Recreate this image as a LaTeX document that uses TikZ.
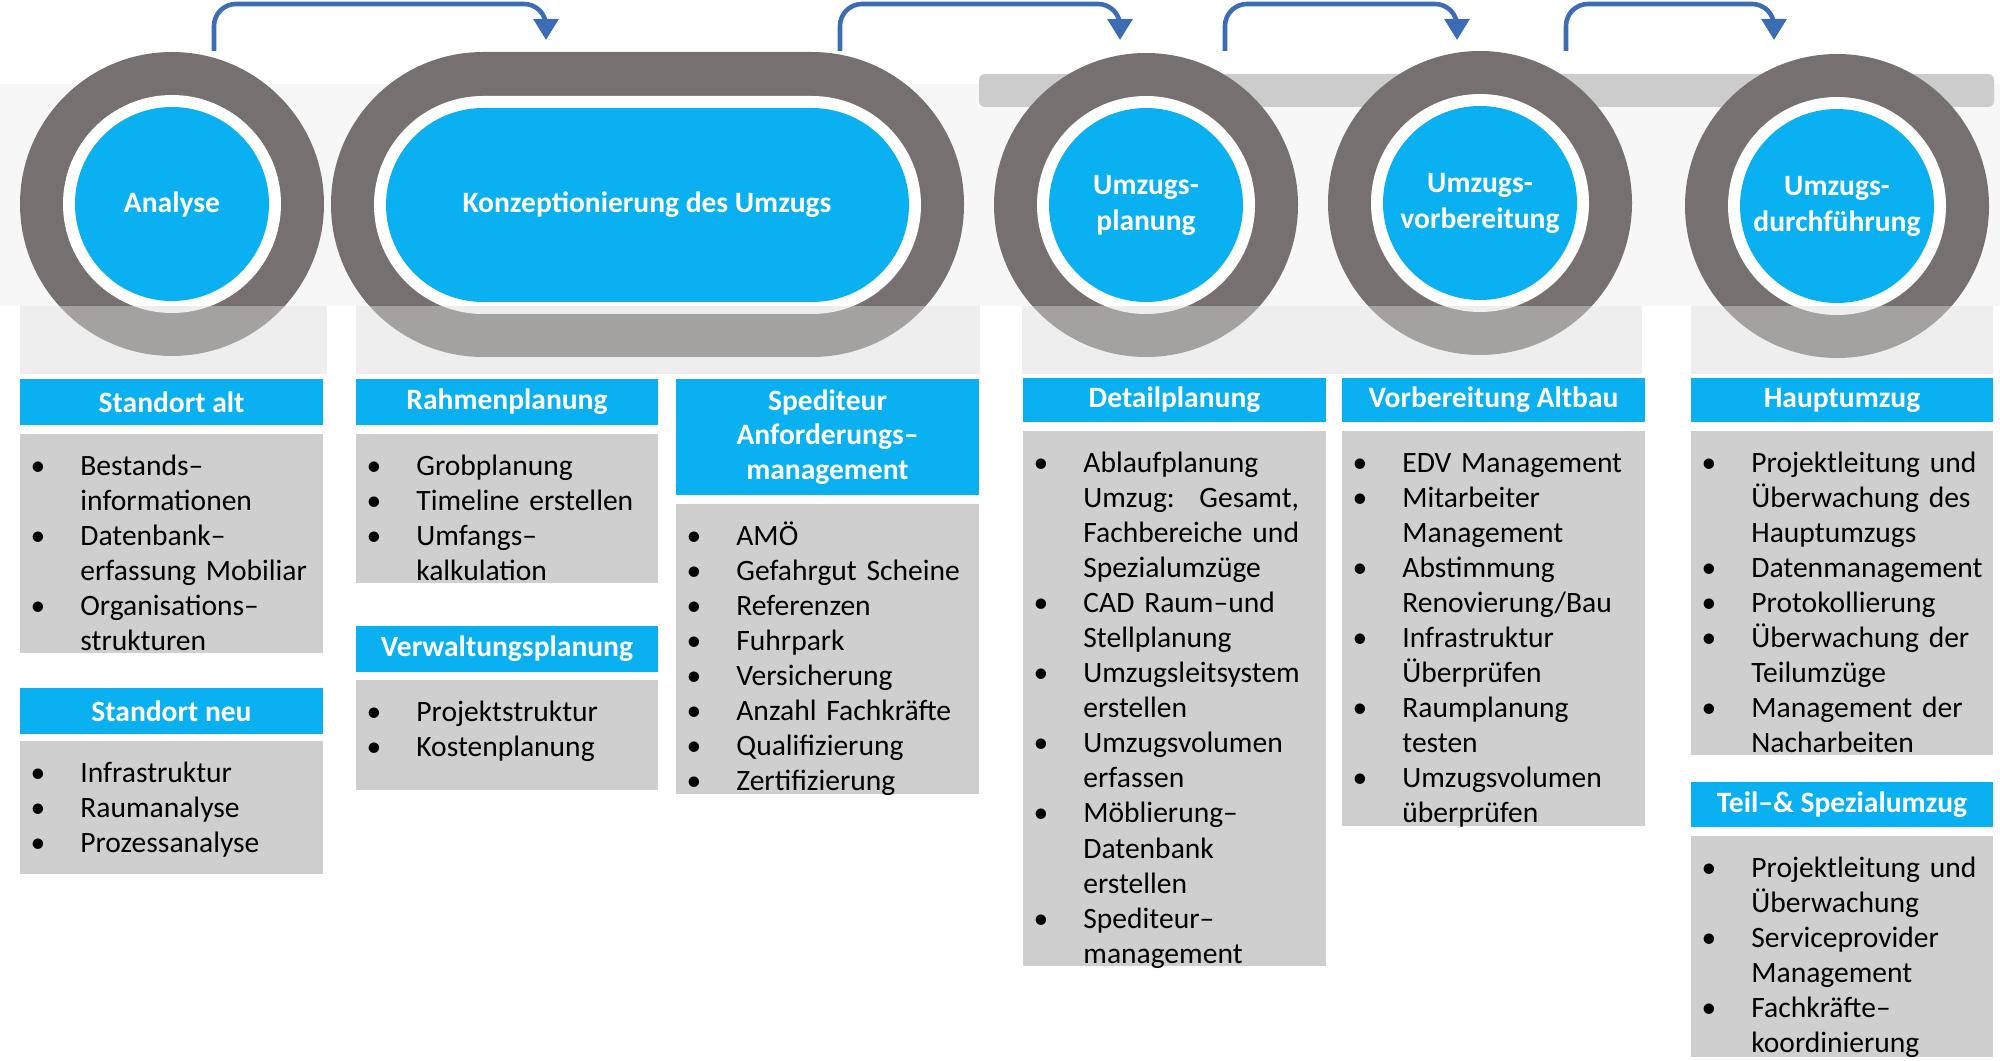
\documentclass[tikz,border=0pt]{standalone}
\usepackage{fontspec}
\setmainfont{Carlito}
\usepackage{enumitem}
\usetikzlibrary{arrows.meta}
\definecolor{ringgray}{HTML}{767170}
\definecolor{umblue}{HTML}{0AB0EF}
\definecolor{boxgray}{HTML}{D0CFCF}
\definecolor{arrblue}{HTML}{3B6CB4}
\newcommand{\punkte}[1]{\begin{itemize}[label=\textbullet,leftmargin=11pt,labelsep=10pt,nosep]#1\end{itemize}}
% header bar with centred title
\newcommand{\kopf}[6]{\fill[umblue] (#2,#3) rectangle (#4,#5);
  \node[kopftxt] (#1) at ({(#2+#4)/2},{(#3+#5)/2}) {#6};}
% gray box with bullet list
\newcommand{\liste}[6]{\fill[boxgray] (#2,#3) rectangle (#4,#5);
  \node[listtxt] (#1) at (#2+21,#3+6) {\punkte{#6}};}
% ring with blue centre
\newcommand{\ring}[4]{\fill[ringgray] (#2,#3) circle (152);
  \fill[white] (#2,#3) circle (109);
  \fill[umblue] (#2,#3) circle (97);
  \node[ringtxt] (#1) at (#2,#3) {#4};}
\tikzset{
  kopftxt/.style={text=white,font=\fontsize{8.4}{9.9}\selectfont\bfseries,align=center,inner sep=0},
  listtxt/.style={anchor=north west,inner sep=0,text width=2.75cm,font=\fontsize{8.4}{9.96}\selectfont,align=left},
  ringtxt/.style={text=white,font=\fontsize{8.4}{10.2}\selectfont\bfseries,align=center,inner sep=0},
  pfeil/.style={arrblue,line width=1.3pt,rounded corners=0.22cm,-{Triangle[width=7pt,length=6pt]}},
  band/.style={fill=black!14,opacity=.46}
}
\begin{document}
\begin{tikzpicture}[x=0.01cm,y=-0.01cm]
\useasboundingbox (0,0) rectangle (2000,1061);
\fill[black!3] (0,84) rectangle (2000,306);
\fill[black!20,rounded corners=0.06cm] (979,74) rectangle (1994,107);
% phases
\ring{analyse}{172}{204}{Analyse}
\fill[ringgray,rounded corners=1.52cm] (331,52) rectangle (964,357);
\fill[white,rounded corners=1.09cm] (374,96) rectangle (921,314);
\fill[umblue,rounded corners=0.97cm] (386,108) rectangle (909,302);
\node[ringtxt] (konz) at (647,205) {Konzeptionierung des Umzugs};
\ring{planung}{1146}{205}{Umzugs-\\planung}
\ring{vorber}{1480}{203}{Umzugs-\\vorbereitung}
\ring{durchf}{1837}{206}{Umzugs-\\durchführung}
\fill[band] (20,306) rectangle (327,374);
\fill[band] (356,306) rectangle (980,374);
\fill[band] (1022,306) rectangle (1642,374);
\fill[band] (1691,306) rectangle (1993,374);
% column 1
\kopf{alt}{20}{379}{323}{425}{Standort alt}
\liste{altl}{20}{434}{323}{653}{\item Bestands–\\informationen
  \item Datenbank–\\erfassung Mobiliar
  \item Organisations–\\strukturen}
\kopf{neu}{20}{688}{323}{734}{Standort neu}
\liste{neul}{20}{741}{323}{874}{\item Infrastruktur \item Raumanalyse \item Prozessanalyse}
% column 2
\kopf{rahmen}{356}{379}{658}{425}{Rahmenplanung}
\liste{rahmenl}{356}{434}{658}{583}{\item Grobplanung \item Timeline erstellen
  \item Umfangs–\\kalkulation}
\kopf{verw}{356}{626}{658}{672}{Verwaltungsplanung}
\liste{verwl}{356}{680}{658}{790}{\item Projektstruktur \item Kostenplanung}
% column 3
\kopf{sped}{676}{379}{979}{495}{Spediteur\\Anforderungs–\\management}
\liste{spedl}{676}{504}{979}{794}{\item AMÖ \item Gefahrgut Scheine \item Referenzen
  \item Fuhrpark \item Versicherung \item Anzahl Fachkräfte \item Qualifizierung
  \item Zertifizierung}
% column 4
\kopf{detail}{1023}{378}{1326}{422}{Detailplanung}
\liste{detaill}{1023}{431}{1326}{966}{\item Ablaufplanung\\Umzug:~ Gesamt,\\Fachbereiche und\\Spezialumzüge
  \item CAD Raum–und\\Stellplanung
  \item Umzugsleitsystem\\erstellen
  \item Umzugsvolumen\\erfassen
  \item Möblierung–\\Datenbank\\erstellen
  \item Spediteur–\\management}
% column 5
\kopf{altbau}{1342}{378}{1645}{422}{Vorbereitung Altbau}
\liste{altbaul}{1342}{431}{1645}{826}{\item EDV Management
  \item Mitarbeiter\\Management
  \item Abstimmung\\Renovierung/Bau
  \item Infrastruktur\\Überprüfen
  \item Raumplanung\\testen
  \item Umzugsvolumen\\überprüfen}
% column 6
\kopf{haupt}{1691}{378}{1993}{422}{Hauptumzug}
\liste{hauptl}{1691}{431}{1993}{755}{\item Projektleitung und\\Überwachung des\\Hauptumzugs
  \item Datenmanagement \item Protokollierung
  \item Überwachung der\\Teilumzüge
  \item Management der\\Nacharbeiten}
\kopf{teil}{1691}{782}{1993}{827}{Teil–\& Spezialumzug}
\liste{teill}{1691}{836}{1993}{1057}{\item Projektleitung und\\Überwachung
  \item Serviceprovider\\Management
  \item Fachkräfte–\\koordinierung}
% arrows between phases
\coordinate (a1s) at (214,51); \coordinate (a1e) at (546,40);
\coordinate (a2s) at (840,51); \coordinate (a2e) at (1120,40);
\coordinate (a3s) at (1225,51); \coordinate (a3e) at (1457,40);
\coordinate (a4s) at (1566,51); \coordinate (a4e) at (1774,40);
\foreach \s/\e in {a1s/a1e,a2s/a2e,a3s/a3e,a4s/a4e}
  \draw[pfeil] (\s) -- (\s|-0,4) -- (\e|-0,4) -- (\e);
\end{tikzpicture}
\end{document}
